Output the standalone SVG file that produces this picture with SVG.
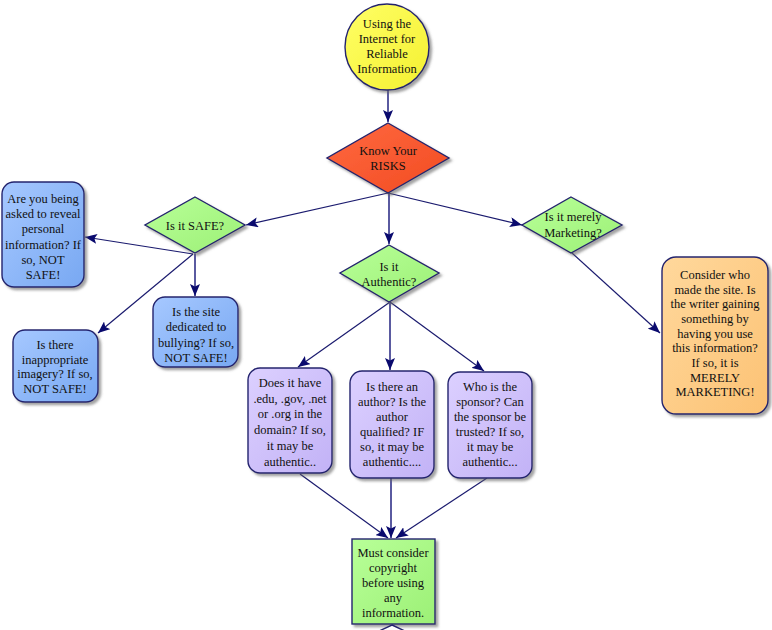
<svg xmlns="http://www.w3.org/2000/svg" width="772" height="630" viewBox="0 0 772 630">
<style>
.t{font-family:"Liberation Serif","Times New Roman",serif;font-size:12.5px;fill:#111;text-anchor:middle}
.n{stroke:#24246e;stroke-width:1.4;filter:url(#sh)}
.c{fill:none;stroke:#1a1a6e;stroke-width:1.2;marker-end:url(#arr)}
.v{fill:none;stroke:#5a5aa0;stroke-width:2;marker-end:url(#arr)}
</style>
<defs>
<filter id="sh" x="-20%" y="-20%" width="140%" height="140%">
<feDropShadow dx="2.5" dy="2.5" stdDeviation="1.2" flood-color="#666" flood-opacity="0.6"/>
</filter>
<marker id="arr" viewBox="0 0 12 10" refX="12" refY="5" markerWidth="12" markerHeight="10" orient="auto" markerUnits="userSpaceOnUse">
<path d="M0,0 L12,5 L0,10 L2.5,5 z" fill="#0a0a6e"/>
</marker>
<linearGradient id="gy" x1="0" y1="0" x2="1" y2="1"><stop offset="0" stop-color="#ffff66"/><stop offset="1" stop-color="#f4f030"/></linearGradient>
<linearGradient id="gr" x1="0" y1="0" x2="1" y2="1"><stop offset="0" stop-color="#ff6a40"/><stop offset="1" stop-color="#f24a22"/></linearGradient>
<linearGradient id="gg" x1="0" y1="0" x2="1" y2="1"><stop offset="0" stop-color="#b8ff98"/><stop offset="1" stop-color="#9cf076"/></linearGradient>
<linearGradient id="gb" x1="0" y1="0" x2="1" y2="1"><stop offset="0" stop-color="#a6c8ff"/><stop offset="1" stop-color="#78a8f2"/></linearGradient>
<linearGradient id="gp" x1="0" y1="0" x2="1" y2="1"><stop offset="0" stop-color="#dcd0ff"/><stop offset="1" stop-color="#c2b2f6"/></linearGradient>
<linearGradient id="go" x1="0" y1="0" x2="1" y2="1"><stop offset="0" stop-color="#ffd89c"/><stop offset="1" stop-color="#fcc274"/></linearGradient>
</defs>
<rect width="772" height="630" fill="#fff"/>

<g id="connectors">
<path class="v" d="M388,90 L388,122"/>
<path class="c" d="M388,193 L246,225"/>
<path class="v" d="M389,193 L389,244"/>
<path class="c" d="M388,193 L522,225"/>
<path class="c" d="M193,254 L85,237"/>
<path class="v" d="M195,254 L195,296"/>
<path class="c" d="M193,254 L98,333"/>
<path class="c" d="M572,253 L660,333"/>
<path class="c" d="M390,302 L298,367"/>
<path class="v" d="M390,302 L390,370"/>
<path class="c" d="M390,302 L484,371"/>
<path class="c" d="M300,474 L388,538"/>
<path class="v" d="M391,478 L391,538"/>
<path class="c" d="M487,478 L396,538"/>
</g>

<g id="start">
<ellipse class="n" cx="387" cy="47" rx="42" ry="43" fill="url(#gy)"/>
<text class="t" x="387" y="28">Using the</text>
<text class="t" x="387" y="43">Internet for</text>
<text class="t" x="387" y="58">Reliable</text>
<text class="t" x="387" y="73">Information</text>
</g>

<g id="risks">
<polygon class="n" points="388,123 449,158 388,193 327,158" fill="url(#gr)"/>
<text class="t" x="388" y="155">Know Your</text>
<text class="t" x="388" y="170">RISKS</text>
</g>

<g id="safe">
<polygon class="n" points="195,197 245,225 195,253 145,225" fill="url(#gg)"/>
<text class="t" x="195" y="230">Is it SAFE?</text>
</g>

<g id="authentic">
<polygon class="n" points="389,245 439,273 389,302 340,273" fill="url(#gg)"/>
<text class="t" x="389" y="271">Is it</text>
<text class="t" x="389" y="286">Authentic?</text>
</g>

<g id="marketing">
<polygon class="n" points="571,197 622,225 571,253 522,225" fill="url(#gg)"/>
<text class="t" x="573" y="221">Is it merely</text>
<text class="t" x="573" y="237">Marketing?</text>
</g>

<g id="personal">
<rect class="n" x="2" y="182" width="82" height="105" rx="12" fill="url(#gb)"/>
<text class="t" x="43" y="203">Are you being</text>
<text class="t" x="43" y="218">asked to reveal</text>
<text class="t" x="43" y="233">personal</text>
<text class="t" x="43" y="249">information? If</text>
<text class="t" x="43" y="264">so, NOT</text>
<text class="t" x="43" y="279">SAFE!</text>
</g>

<g id="bullying">
<rect class="n" x="153" y="297" width="85" height="70" rx="12" fill="url(#gb)"/>
<text class="t" x="196" y="316">Is the site</text>
<text class="t" x="196" y="331">dedicated to</text>
<text class="t" x="196" y="347">bullying? If so,</text>
<text class="t" x="196" y="362">NOT SAFE!</text>
</g>

<g id="imagery">
<rect class="n" x="13" y="330" width="85" height="72" rx="12" fill="url(#gb)"/>
<text class="t" x="55" y="349">Is there</text>
<text class="t" x="55" y="364">inappropriate</text>
<text class="t" x="55" y="378">imagery? If so,</text>
<text class="t" x="55" y="393">NOT SAFE!</text>
</g>

<g id="domain">
<rect class="n" x="248" y="368" width="84" height="105" rx="12" fill="url(#gp)"/>
<text class="t" x="290" y="387">Does it have</text>
<text class="t" x="290" y="403">.edu, .gov, .net</text>
<text class="t" x="290" y="418">or .org in the</text>
<text class="t" x="290" y="434">domain? If so,</text>
<text class="t" x="290" y="450">it may be</text>
<text class="t" x="290" y="466">authentic..</text>
</g>

<g id="author">
<rect class="n" x="350" y="371" width="84" height="107" rx="12" fill="url(#gp)"/>
<text class="t" x="392" y="391">Is there an</text>
<text class="t" x="392" y="406">author? Is the</text>
<text class="t" x="392" y="421">author</text>
<text class="t" x="392" y="436">qualified? IF</text>
<text class="t" x="392" y="451">so, it may be</text>
<text class="t" x="392" y="466">authentic....</text>
</g>

<g id="sponsor">
<rect class="n" x="448" y="372" width="84" height="106" rx="12" fill="url(#gp)"/>
<text class="t" x="490" y="391">Who is the</text>
<text class="t" x="490" y="406">sponsor? Can</text>
<text class="t" x="490" y="421">the sponsor be</text>
<text class="t" x="490" y="436">trusted? If so,</text>
<text class="t" x="490" y="451">it may be</text>
<text class="t" x="490" y="466">authentic...</text>
</g>

<g id="consider">
<rect class="n" x="662" y="257" width="106" height="157" rx="14" fill="url(#go)"/>
<text class="t" x="715" y="279">Consider who</text>
<text class="t" x="715" y="294">made the site. Is</text>
<text class="t" x="715" y="308">the writer gaining</text>
<text class="t" x="715" y="323">something by</text>
<text class="t" x="715" y="338">having you use</text>
<text class="t" x="715" y="352">this information?</text>
<text class="t" x="715" y="367">If so, it is</text>
<text class="t" x="715" y="382">MERELY</text>
<text class="t" x="715" y="396">MARKETING!</text>
</g>

<g id="copyright">
<rect class="n" x="352" y="539" width="83" height="85" fill="url(#gg)"/>
<text class="t" x="393" y="557">Must consider</text>
<text class="t" x="393" y="572">copyright</text>
<text class="t" x="393" y="587">before using</text>
<text class="t" x="393" y="602">any</text>
<text class="t" x="393" y="617">information.</text>
</g>

<g id="next">
<polygon points="392,625 452,653 392,681 332,653" fill="#fff" stroke="#24246e" stroke-width="1.4"/>
</g>
</svg>
